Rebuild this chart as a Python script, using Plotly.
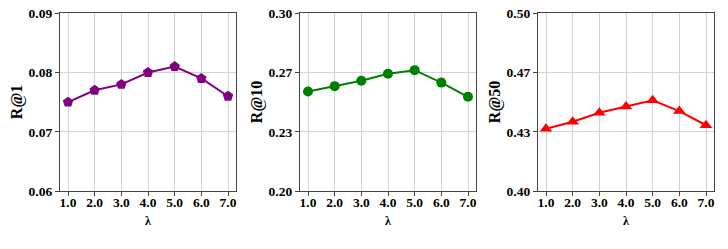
import numpy as np
import plotly.graph_objects as go

lambdas = [1.0, 2.0, 3.0, 4.0, 5.0, 6.0, 7.0]
x_tick_labels = ["1.0", "2.0", "3.0", "4.0", "5.0", "6.0", "7.0"]

r_at_1 = [0.075, 0.077, 0.078, 0.080, 0.081, 0.079, 0.076]
r_at_10 = [0.256, 0.259, 0.262, 0.266, 0.268, 0.261, 0.253]
r_at_50 = [0.435, 0.439, 0.444, 0.4475, 0.451, 0.445, 0.437]

y_ranges = [(0.06, 0.09), (0.20, 0.30), (0.40, 0.50)]
y_titles = ["R@1", "R@10", "R@50"]
x_title = "λ"

series = [r_at_1, r_at_10, r_at_50]
colors = ["#800080", "#008000", "#ff0000"]
symbols = ["pentagon", "circle", "triangle-up"]
sizes = [11, 10, 11]

W, H = 728, 249
x_domains_px = [(60, 236), (300, 476), (538, 714)]
y_top_px, y_bot_px = 13.3, 191

font_family = "Liberation Serif, Times New Roman, serif"

fig = go.Figure()
for i in range(3):
    ax = "" if i == 0 else str(i + 1)
    fig.add_trace(go.Scatter(
        x=lambdas, y=series[i], mode="lines+markers",
        line=dict(color=colors[i], width=2),
        marker=dict(symbol=symbols[i], size=sizes[i], color=colors[i]),
        xaxis="x" + ax, yaxis="y" + ax, showlegend=False,
    ))
    lo, hi = y_ranges[i]
    tv = list(np.linspace(lo, hi, 4))
    tt = ["%.2f" % v for v in tv]
    xd = [x_domains_px[i][0] / W, x_domains_px[i][1] / W]
    yd = [1 - y_bot_px / H, 1 - y_top_px / H]
    common = dict(
        showline=True, linecolor="#444444", linewidth=1.3, mirror=True,
        showgrid=True, gridcolor="#d3d3d3", gridwidth=1,
        ticks="outside", ticklen=4, tickcolor="#444444", tickwidth=1,
        tickfont=dict(family=font_family, size=13.5, color="black", weight="bold"),
        zeroline=False, automargin=False,
    )
    fig.layout["xaxis" + ax] = dict(
        domain=xd, range=[0.7, 7.3], tickvals=lambdas, ticktext=x_tick_labels,
        anchor="y" + ax, ticklabelstandoff=-5, **common)
    fig.layout["yaxis" + ax] = dict(
        domain=yd, range=[lo, hi], tickvals=tv, ticktext=tt,
        anchor="x" + ax, **common)
    # y-axis title
    fig.add_annotation(
        text=y_titles[i], xref="paper", yref="paper",
        x=(x_domains_px[i][0] - 43) / W, y=(yd[0] + yd[1]) / 2,
        textangle=-90, showarrow=False, xanchor="center", yanchor="middle",
        font=dict(family=font_family, size=16, color="black", weight="bold"),
    )
    # x-axis title
    fig.add_annotation(
        text=x_title, xref="paper", yref="paper",
        x=(x_domains_px[i][0] + x_domains_px[i][1]) / 2 / W, y=1 - 221 / H,
        showarrow=False, xanchor="center", yanchor="middle",
        font=dict(family=font_family, size=12, color="black", weight="bold"),
    )

fig.update_layout(
    width=W, height=H, margin=dict(l=0, r=0, t=0, b=0, autoexpand=False),
    paper_bgcolor="white", plot_bgcolor="white",
)
fig.write_html("out.html")
